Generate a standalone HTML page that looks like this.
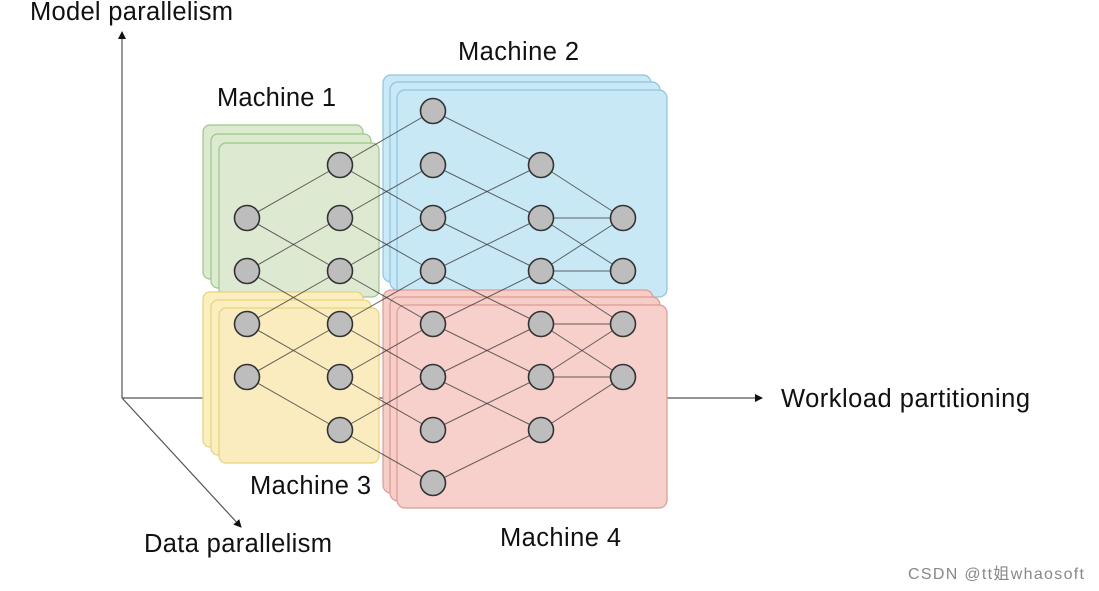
<!DOCTYPE html>
<html><head><meta charset="utf-8"><style>
html,body{margin:0;padding:0;background:#fff;}
svg{display:block;}
text{font-family:"Liberation Sans",Arial,sans-serif;fill:#111;}
</style></head><body>
<svg width="1099" height="591" viewBox="0 0 1099 591" xmlns="http://www.w3.org/2000/svg">
<defs>
<marker id="ar" markerWidth="8" markerHeight="8" refX="7" refY="4" orient="auto" markerUnits="userSpaceOnUse">
<path d="M0,0 L8,4 L0,8 z" fill="#111"/></marker>
</defs>
<line x1="122" y1="398" x2="122" y2="32" stroke="#555" stroke-width="1.2" marker-end="url(#ar)"/>
<line x1="122" y1="398" x2="762" y2="398" stroke="#555" stroke-width="1.2" marker-end="url(#ar)"/>
<line x1="122" y1="398" x2="241" y2="527" stroke="#555" stroke-width="1.2" marker-end="url(#ar)"/>
<g stroke="#9cc68a" stroke-width="1.2" fill="#dcebcf">
<rect x="203" y="125" width="160" height="154" rx="7"/>
<rect x="211" y="134" width="160" height="154" rx="7"/>
<rect x="219" y="143" width="160" height="154" rx="7" fill="#dde9d0"/>
</g>
<g stroke="#e8d27e" stroke-width="1.2" fill="#fcefbf">
<rect x="203" y="292" width="160" height="155" rx="7"/>
<rect x="211" y="300" width="160" height="155" rx="7"/>
<rect x="219" y="308" width="160" height="155" rx="7" fill="#fbecc0"/>
</g>
<g stroke="#8fc3dd" stroke-width="1.2" fill="#c9e9f7">
<rect x="383" y="75" width="268" height="207" rx="8"/>
<rect x="390" y="82" width="270" height="208" rx="8"/>
<rect x="397" y="90" width="270" height="207" rx="8" fill="#c8e8f6"/>
</g>
<g stroke="#dd9a92" stroke-width="1.2" fill="#f7cdc8">
<rect x="383" y="290" width="270" height="203" rx="8"/>
<rect x="390" y="297" width="270" height="204" rx="8"/>
<rect x="397" y="305" width="270" height="203" rx="8" fill="#f7cfcb"/>
</g>
<g stroke="#333" stroke-width="1" stroke-opacity="0.75">
<line x1="247" y1="218" x2="340" y2="165"/><line x1="247" y1="218" x2="340" y2="271"/>
<line x1="247" y1="271" x2="340" y2="218"/><line x1="247" y1="271" x2="340" y2="324"/>
<line x1="247" y1="324" x2="340" y2="271"/><line x1="247" y1="324" x2="340" y2="377"/>
<line x1="247" y1="377" x2="340" y2="324"/><line x1="247" y1="377" x2="340" y2="430"/>
<line x1="340" y1="165" x2="433" y2="111"/><line x1="340" y1="165" x2="433" y2="218"/>
<line x1="340" y1="218" x2="433" y2="165"/><line x1="340" y1="218" x2="433" y2="271"/>
<line x1="340" y1="271" x2="433" y2="218"/><line x1="340" y1="271" x2="433" y2="324"/>
<line x1="340" y1="324" x2="433" y2="271"/><line x1="340" y1="324" x2="433" y2="377"/>
<line x1="340" y1="377" x2="433" y2="324"/><line x1="340" y1="377" x2="433" y2="430"/>
<line x1="340" y1="430" x2="433" y2="377"/><line x1="340" y1="430" x2="433" y2="483"/>
<line x1="433" y1="111" x2="541" y2="165"/>
<line x1="433" y1="165" x2="541" y2="218"/>
<line x1="433" y1="218" x2="541" y2="165"/><line x1="433" y1="218" x2="541" y2="271"/>
<line x1="433" y1="271" x2="541" y2="218"/><line x1="433" y1="271" x2="541" y2="324"/>
<line x1="433" y1="324" x2="541" y2="271"/><line x1="433" y1="324" x2="541" y2="377"/>
<line x1="433" y1="377" x2="541" y2="324"/><line x1="433" y1="377" x2="541" y2="430"/>
<line x1="433" y1="430" x2="541" y2="377"/>
<line x1="433" y1="483" x2="541" y2="430"/>
<line x1="541" y1="165" x2="623" y2="218"/>
<line x1="541" y1="218" x2="623" y2="218"/><line x1="541" y1="218" x2="623" y2="271"/>
<line x1="541" y1="271" x2="623" y2="218"/><line x1="541" y1="271" x2="623" y2="271"/><line x1="541" y1="271" x2="623" y2="324"/>
<line x1="541" y1="324" x2="623" y2="324"/><line x1="541" y1="324" x2="623" y2="377"/>
<line x1="541" y1="377" x2="623" y2="377"/><line x1="541" y1="377" x2="623" y2="324"/>
<line x1="541" y1="430" x2="623" y2="377"/>
</g>
<g fill="#bdbdbd" stroke="#333" stroke-width="1.6">
<circle cx="247" cy="218" r="12.5"/><circle cx="247" cy="271" r="12.5"/><circle cx="247" cy="324" r="12.5"/><circle cx="247" cy="377" r="12.5"/>
<circle cx="340" cy="165" r="12.5"/><circle cx="340" cy="218" r="12.5"/><circle cx="340" cy="271" r="12.5"/><circle cx="340" cy="324" r="12.5"/><circle cx="340" cy="377" r="12.5"/><circle cx="340" cy="430" r="12.5"/>
<circle cx="433" cy="111" r="12.5"/><circle cx="433" cy="165" r="12.5"/><circle cx="433" cy="218" r="12.5"/><circle cx="433" cy="271" r="12.5"/><circle cx="433" cy="324" r="12.5"/><circle cx="433" cy="377" r="12.5"/><circle cx="433" cy="430" r="12.5"/><circle cx="433" cy="483" r="12.5"/>
<circle cx="541" cy="165" r="12.5"/><circle cx="541" cy="218" r="12.5"/><circle cx="541" cy="271" r="12.5"/><circle cx="541" cy="324" r="12.5"/><circle cx="541" cy="377" r="12.5"/><circle cx="541" cy="430" r="12.5"/>
<circle cx="623" cy="218" r="12.5"/><circle cx="623" cy="271" r="12.5"/><circle cx="623" cy="324" r="12.5"/><circle cx="623" cy="377" r="12.5"/>
</g>
<g font-size="25.5">
<text x="30" y="20" textLength="203">Model parallelism</text>
<text x="217" y="106" textLength="119">Machine 1</text>
<text x="458" y="60" textLength="121">Machine 2</text>
<text x="250" y="494" textLength="121">Machine 3</text>
<text x="500" y="546" textLength="121">Machine 4</text>
<text x="144" y="552" textLength="188">Data parallelism</text>
<text x="781" y="407" textLength="249">Workload partitioning</text>
</g>
<text x="908" y="579" font-size="16" textLength="176" style="fill:#888;font-family:'Liberation Sans','Noto Sans CJK SC',sans-serif">CSDN @tt姐whaosoft</text>
</svg>
</body></html>
